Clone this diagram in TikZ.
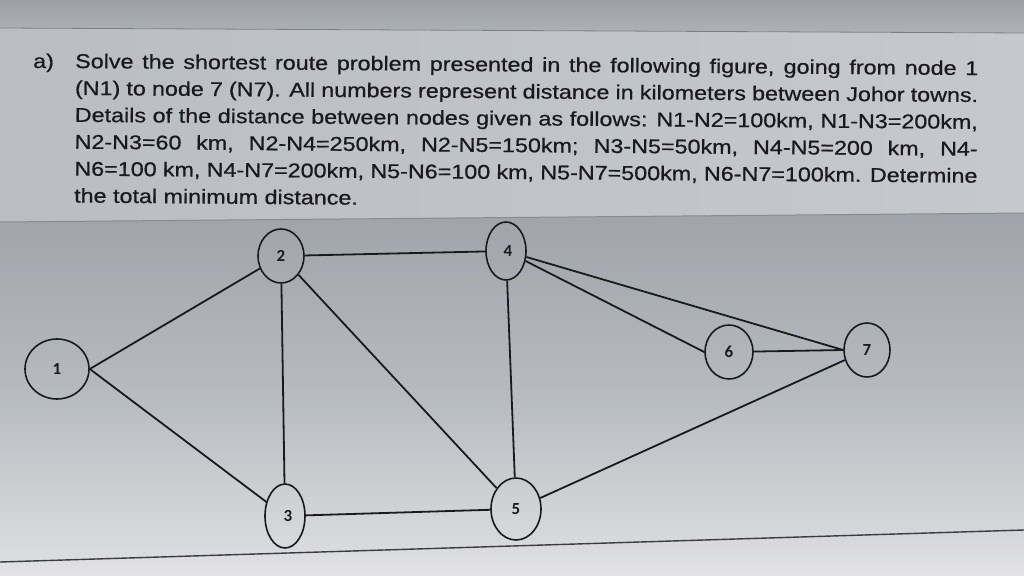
\documentclass[tikz,border=0pt]{standalone}
\usepackage{fontspec}
\setmainfont{Liberation Sans}
\newfontfamily\bodyfont{Liberation Sans}[FakeBold=0.6]
\newfontfamily\labfont{Carlito}
\usetikzlibrary{shapes.geometric}
\definecolor{stripT}{HTML}{9C9FA5}
\definecolor{stripB}{HTML}{AEB1B6}
\definecolor{textL}{HTML}{BABDC2}
\definecolor{textR}{HTML}{C6C8CD}
\definecolor{diagT}{HTML}{A0A4AA}
\definecolor{diagM}{HTML}{B6B9BE}
\definecolor{diagB}{HTML}{DCDDE0}
\definecolor{lowT}{HTML}{D4D5D8}
\definecolor{lowB}{HTML}{E3E3E5}
\definecolor{ink}{HTML}{1A1A1E}
\begin{document}
\begin{tikzpicture}[x=1bp,y=-1bp,
  town/.style={draw=ink, line width=1.6bp, ellipse, inner sep=0pt,
    font=\labfont\bfseries\fontsize{17}{17}\selectfont, text=ink},
  road/.style={draw=ink, line width=1.8bp},
  bodytext/.style={inner sep=0pt, text=ink, font=\bodyfont\fontsize{20}{27}\selectfont}]
\useasboundingbox (0,0) rectangle (1024,576);
% paper background
\shade[top color=stripT, bottom color=stripB] (0,0) -- (1024,0) -- (1024,33) -- (0,28) -- cycle;
\shade[left color=textL, right color=textR] (0,28) -- (1024,33) -- (1024,213) -- (0,222) -- cycle;
\shade[top color=diagT, bottom color=diagB, middle color=diagM] (0,222) -- (1024,213) -- (1024,530) -- (0,562) -- cycle;
\shade[top color=lowT, bottom color=lowB] (0,562) -- (1024,530) -- (1024,576) -- (0,576) -- cycle;
\draw[color=stripT!80!black, line width=0.8bp] (0,28) -- (1024,33);
\draw[color=diagT!85!black, line width=1bp] (0,222) -- (1024,213);
\draw[color=ink!85, line width=1.4bp] (0,562) -- (1024,530);
% question text
\node[bodytext, anchor=base west] (qa) at (33,68) {\scalebox{1.17}[1]{a)}};
\node[bodytext, anchor=base west, rotate=-0.45] (qtext) at (75,68) {\scalebox{1.17}[1]{\parbox[t]{772bp}{%
\makebox[772bp][s]{Solve the shortest route problem presented in the following figure, going from node 1}\\
\makebox[772bp][s]{(N1) to node 7 (N7). All numbers represent distance in kilometers between Johor towns.}\\
\makebox[772bp][s]{Details of the distance between nodes given as follows: N1-N2=100km, N1-N3=200km,}\\
\makebox[772bp][s]{N2-N3=60 \ km, \ N2-N4=250km, \ N2-N5=150km; \ N3-N5=50km, \ N4-N5=200 \ km, \ N4-}\\
\makebox[772bp][s]{N6=100 km, N4-N7=200km, N5-N6=100 km, N5-N7=500km, N6-N7=100km. Determine}\\
the total minimum distance.}}};
% towns
\node[town, minimum width=64bp, minimum height=60bp] (n1) at (57,369) {1};
\node[town, minimum width=46bp, minimum height=54bp] (n2) at (281,256) {2};
\node[town, minimum width=40bp, minimum height=64bp] (n3) at (285,516) {\hspace{6bp}3};
\node[town, minimum width=40bp, minimum height=58bp] (n4) at (506,251) {\hspace{4bp}4};
\node[town, minimum width=50bp, minimum height=62bp] (n5) at (516,509) {5};
\node[town, minimum width=48bp, minimum height=54bp] (n6) at (729,352) {6};
\node[town, minimum width=46bp, minimum height=54bp] (n7) at (867,350) {7};
% roads
\draw[road] (n1.east) -- (n2);
\draw[road] (n1.east) -- (n3);
\draw[road] (n2) -- (n3);
\draw[road] (n2) -- (n4);
\draw[road] (n2) -- (n5);
\draw[road] (n3) -- (n5);
\draw[road] (n4) -- (n5);
\draw[road] (n4) -- (n6.west);
\draw[road] (n4) -- (n7.west);
\draw[road] (n6) -- (n7.west);
\draw[road] (n5) -- (n7);
\end{tikzpicture}
\end{document}
